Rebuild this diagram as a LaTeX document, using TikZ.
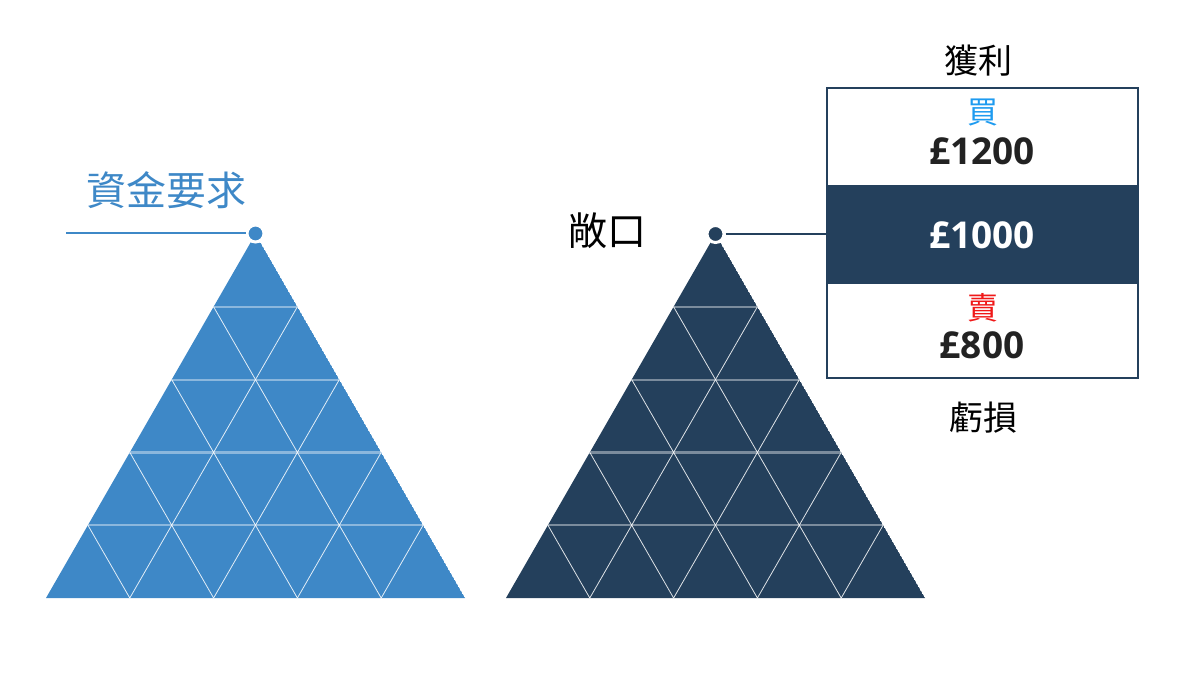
\documentclass[tikz,border=0pt]{standalone}
\usepackage{fontspec}
\setmainfont{Noto Sans}
\newfontfamily\cjk{Noto Sans CJK TC}
\newfontfamily\numfont{Open Sans}
\definecolor{pblue}{HTML}{3E88C7}
\definecolor{pnavy}{HTML}{24405C}
\definecolor{buyblue}{HTML}{1E9BF0}
\definecolor{sellred}{HTML}{F01818}
\definecolor{numgray}{HTML}{222222}
\tikzset{
  apexdot/.style={circle, inner sep=0pt, minimum size=17pt, draw=white, line width=3pt},
  rowline/.style={white, opacity=0.4, line width=2.2pt},
  diagline/.style={white, opacity=0.85, line width=0.8pt},
  cjklabel/.style={font=\cjk\fontsize{39}{41}\selectfont, inner sep=0pt},
  pricelabel/.style={font=\numfont\bfseries\fontsize{37}{40}\selectfont, inner sep=0pt, text=numgray},
  sidelabel/.style={font=\cjk\fontsize{34}{36}\selectfont, inner sep=0pt},
  tradelabel/.style={font=\cjk\fontsize{31}{33}\selectfont, inner sep=0pt},
  leader/.style={line width=2pt},
}
\newcommand{\pyramid}[2]{%
  \begin{scope}
    \path[clip] (#1,234) -- (#1+209.5,598) -- (#1-209.5,598) -- cycle;
    \fill[#2] (#1,234) -- (#1+209.5,598) -- (#1-209.5,598) -- cycle;
    \foreach \r in {1,2,3,4}{
      \draw[rowline] (#1-250,234+72.8*\r) -- (#1+250,234+72.8*\r);
    }
    \foreach \k in {1,2,3,4}{
      \draw[diagline] (#1-209.5+83.8*\k,598) -- ++(209.5,-364);
      \draw[diagline] (#1-209.5+83.8*\k,598) -- ++(-209.5,-364);
    }
  \end{scope}
}
\begin{document}
\begin{tikzpicture}[x=1pt,y=-1pt]
\useasboundingbox (0,0) rectangle (1200,696);

% left pyramid
\pyramid{255.5}{pblue}
\node[apexdot, fill=pblue] (ldot) at (255.5,233.5) {};
\coordinate (lend) at (66,233);
\draw[leader, pblue] (lend) -- (lend -| ldot.west);
\node[cjklabel, text=pblue, font=\cjk\fontsize{40}{42}\selectfont] (lreq) at (166,190) {資金要求};

% right pyramid
\pyramid{715.5}{pnavy}
\node[apexdot, fill=pnavy] (rdot) at (715.5,234) {};
\node[cjklabel, text=black] (expo) at (607,231) {敞口};

% price box
\node[draw=pnavy, line width=1.5pt, fill=white, minimum width=311pt, minimum height=98pt, inner sep=0pt, anchor=north west] (top) at (826,87) {};
\node[fill=pnavy, draw=pnavy, line width=1.5pt, minimum width=311pt, minimum height=97pt, inner sep=0pt, anchor=north west] (mid) at (826,185) {};
\node[draw=pnavy, line width=1.5pt, fill=white, minimum width=311pt, minimum height=95pt, inner sep=0pt, anchor=north west] (bot) at (826,282) {};
\draw[leader, pnavy] (rdot.east) -- (rdot.east -| mid.west);

\node[tradelabel, text=buyblue] (buy) at (983,112) {買};
\node[pricelabel] (p1200) at (982,151) {£1200};
\node[pricelabel, text=white] (p1000) at (982,235) {£1000};
\node[tradelabel, text=sellred] (sell) at (983,308) {賣};
\node[pricelabel] (p800) at (982,345) {£800};

\node[sidelabel, text=black] (profit) at (978,61) {獲利};
\node[sidelabel, text=black] (loss) at (983,418) {虧損};
\end{tikzpicture}
\end{document}
